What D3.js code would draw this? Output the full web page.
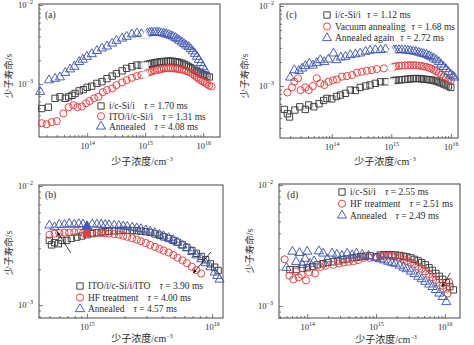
<!DOCTYPE html>
<html>
<head>
<meta charset="utf-8">
<script src="https://cdn.jsdelivr.net/npm/d3@7"></script>
<style>
  body { margin: 0; background: #fff; }
  svg text { font-family: "Liberation Serif", "DejaVu Serif", serif; fill: #2b2b2b; }
  .cjk { font-family: "Noto Sans CJK SC", sans-serif; }
</style>
</head>
<body>
<svg id="fig" width="474" height="345"></svg>
<script>
// Effective lifetime vs excess carrier density, [density (cm^-3), lifetime (ms)]
var aBase = [[1.65e13,0.49],[2.15e13,0.51],[2.8e13,0.66],[3.4e13,0.69],[4.2e13,0.66],[4.8e13,0.69],[5.5e13,0.72],[6.2e13,0.76],[7.3e13,0.82],[8.6e13,0.85],[1.0e14,0.91],[1.2e14,0.94],[1.47e14,1.02],[1.8e14,1.07],[2.2e14,1.17],[2.7e14,1.26],[3.2e14,1.36],[4.0e14,1.47],[4.8e14,1.58],[5.9e14,1.66],[7.2e14,1.74],[8.6e14,1.73],
  [1.1e15,1.78],[1.2e15,1.8],[1.3e15,1.83],[1.45e15,1.86],[1.6e15,1.88],[1.75e15,1.9],[1.9e15,1.92],[2.1e15,1.93],[2.3e15,1.94],[2.5e15,1.95],[2.75e15,1.95],[3.0e15,1.94],[3.3e15,1.92],[3.6e15,1.9],[3.9e15,1.87],[4.3e15,1.83],[4.7e15,1.78],[5.1e15,1.73],[5.6e15,1.67],[6.1e15,1.61],[6.6e15,1.55],[7.2e15,1.5],[7.8e15,1.45],[8.4e15,1.41],[9.1e15,1.37],[9.9e15,1.33],[1.07e16,1.3],[1.16e16,1.26],[1.28e16,1.23]];
var aIto = [[1.65e13,0.32],[2.0e13,0.31],[2.45e13,0.33],[3.0e13,0.34],[3.9e13,0.425],[4.8e13,0.51],[5.8e13,0.54],[6.8e13,0.51],[8.1e13,0.52],[9.6e13,0.57],[1.1e14,0.61],[1.32e14,0.66],[1.56e14,0.69],[1.86e14,0.79],[2.2e14,0.84],[2.7e14,0.88],[3.2e14,0.97],[4.0e14,1.05],[4.8e14,1.12],[5.9e14,1.2],[7.2e14,1.26],[8.6e14,1.3],
  [1.1e15,1.39],[1.2e15,1.42],[1.3e15,1.45],[1.45e15,1.48],[1.6e15,1.51],[1.75e15,1.53],[1.9e15,1.55],[2.1e15,1.57],[2.3e15,1.58],[2.5e15,1.59],[2.75e15,1.59],[3.0e15,1.58],[3.3e15,1.57],[3.6e15,1.56],[3.9e15,1.54],[4.3e15,1.52],[4.7e15,1.5],[5.1e15,1.47],[5.6e15,1.43],[6.1e15,1.39],[6.6e15,1.34],[7.2e15,1.28],[7.8e15,1.22],[8.4e15,1.17],[9.1e15,1.12],[9.9e15,1.08],[1.07e16,1.04],[1.16e16,1.0],[1.27e16,0.96],[1.4e16,0.93]];
var aAnneal = [[1.55e13,0.8],[2.2e13,1.12],[2.8e13,1.17],[3.4e13,1.22],[4.2e13,1.39],[5.1e13,1.54],[6.0e13,1.66],[7.3e13,1.91],[8.4e13,2.04],[9.9e13,2.22],[1.2e14,2.4],[1.47e14,2.63],[1.8e14,2.83],[2.2e14,3.0],[2.7e14,3.27],[3.2e14,3.54],[4.0e14,3.78],[4.8e14,3.98],[5.9e14,4.27],[7.2e14,4.38],[8.6e14,4.3],
  [1.1e15,4.4],[1.2e15,4.45],[1.3e15,4.5],[1.45e15,4.52],[1.6e15,4.5],[1.75e15,4.47],[1.9e15,4.42],[2.1e15,4.36],[2.3e15,4.28],[2.5e15,4.2],[2.75e15,4.1],[3.0e15,4.0],[3.3e15,3.85],[3.6e15,3.7],[3.9e15,3.55],[4.3e15,3.38],[4.7e15,3.22],[5.1e15,3.08],[5.6e15,2.95],[6.1e15,2.78],[6.6e15,2.6],[7.2e15,2.42],[7.8e15,2.22],[8.4e15,2.03],[9.1e15,1.85],[9.9e15,1.66],[1.07e16,1.5]];

var bBase = [[5.0e14,3.49],[5.2e14,3.2],[5.5e14,3.34],[5.9e14,3.27],[6.3e14,3.49],[6.9e14,3.49],[7.5e14,3.63],[8.3e14,3.72],[9.1e14,3.8],[1.1e15,3.98],[1.2e15,4.05],[1.3e15,4.1],[1.4e15,4.14],[1.5e15,4.17],[1.65e15,4.2],[1.8e15,4.22],[1.95e15,4.24],[2.1e15,4.24],[2.3e15,4.23],[2.5e15,4.21],[2.7e15,4.18],[2.95e15,4.13],[3.2e15,4.08],[3.5e15,3.96],[3.8e15,3.86],[4.1e15,3.74],[4.5e15,3.62],[4.9e15,3.49],[5.3e15,3.37],[5.8e15,3.2],[6.3e15,3.05],[6.9e15,2.87],[7.5e15,2.72],[8.2e15,2.56],[8.9e15,2.4],[9.7e15,2.22],[1.05e16,2.08],[1.12e16,1.95]];
var bHf = [[5.0e14,3.89],[5.5e14,3.98],[6.0e14,4.03],[6.6e14,4.06],[7.2e14,4.06],[7.9e14,4.08],[8.6e14,4.08],[9.3e14,4.06],[1.1e15,4.06],[1.2e15,4.05],[1.3e15,4.03],[1.4e15,4.0],[1.5e15,3.98],[1.65e15,3.95],[1.8e15,3.9],[1.95e15,3.82],[2.1e15,3.74],[2.3e15,3.64],[2.5e15,3.54],[2.7e15,3.44],[2.95e15,3.32],[3.2e15,3.2],[3.5e15,3.08],[3.8e15,2.97],[4.1e15,2.87],[4.5e15,2.76],[4.9e15,2.63],[5.3e15,2.5],[5.8e15,2.37],[6.3e15,2.25],[6.9e15,2.1],[7.5e15,1.97],[8.2e15,1.84]];
var bAnneal = [[5.0e14,4.67],[5.5e14,4.52],[6.0e14,4.73],[6.6e14,4.73],[7.2e14,4.82],[7.9e14,4.73],[8.6e14,4.8],[9.3e14,4.76],[1.1e15,4.78],[1.2e15,4.76],[1.3e15,4.74],[1.4e15,4.72],[1.5e15,4.7],[1.65e15,4.67],[1.8e15,4.63],[1.95e15,4.59],[2.1e15,4.55],[2.3e15,4.49],[2.5e15,4.42],[2.7e15,4.35],[2.95e15,4.25],[3.2e15,4.15],[3.5e15,4.03],[3.8e15,3.9],[4.1e15,3.79],[4.5e15,3.66],[4.9e15,3.52],[5.3e15,3.36],[5.8e15,3.18],[6.3e15,3.0],[6.9e15,2.8],[7.5e15,2.62],[8.2e15,2.43],[8.9e15,2.25],[9.7e15,2.08],[1.05e16,1.88],[1.1e16,1.76],[1.15e16,1.64]];

var cBase = [[1.6e13,0.51],[1.8e13,0.45],[1.95e13,0.41],[2.4e13,0.5],[2.9e13,0.55],[3.6e13,0.51],[4.1e13,0.58],[5.0e13,0.55],[6.1e13,0.6],[7.3e13,0.66],[8.3e13,0.7],[1.0e14,0.69],[1.2e14,0.74],[1.4e14,0.77],[1.7e14,0.81],[2.05e14,0.89],[2.5e14,0.88],[3.0e14,0.96],[3.7e14,1.0],[4.4e14,1.03],[5.4e14,1.08],[6.6e14,1.13],[8.0e14,1.13],
  [1.1e15,1.17],[1.2e15,1.18],[1.35e15,1.19],[1.5e15,1.2],[1.7e15,1.21],[1.9e15,1.22],[2.1e15,1.23],[2.35e15,1.24],[2.6e15,1.24],[2.9e15,1.24],[3.2e15,1.23],[3.5e15,1.22],[3.9e15,1.21],[4.3e15,1.2],[4.7e15,1.19],[5.2e15,1.17],[5.7e15,1.15],[6.3e15,1.12],[6.9e15,1.09],[7.6e15,1.06],[8.3e15,1.03],[9.1e15,1.0],[1.0e16,0.96]];
var cVacuum = [[1.8e13,0.83],[2.15e13,0.96],[2.35e13,1.13],[2.7e13,1.25],[3.0e13,0.89],[3.6e13,0.96],[4.1e13,0.89],[4.8e13,1.0],[5.6e13,1.25],[6.4e13,1.08],[7.5e13,1.03],[8.8e13,1.13],[1.05e14,1.18],[1.22e14,1.21],[1.48e14,1.31],[1.8e14,1.33],[2.2e14,1.37],[2.65e14,1.47],[3.2e14,1.51],[3.9e14,1.55],[4.7e14,1.58],[5.7e14,1.63],[7.5e14,1.66],
  [1.1e15,1.74],[1.2e15,1.77],[1.35e15,1.79],[1.5e15,1.8],[1.7e15,1.81],[1.9e15,1.82],[2.1e15,1.82],[2.35e15,1.82],[2.6e15,1.81],[2.9e15,1.8],[3.2e15,1.78],[3.5e15,1.76],[3.9e15,1.73],[4.3e15,1.69],[4.7e15,1.65],[5.2e15,1.59],[5.7e15,1.53],[6.3e15,1.46],[6.9e15,1.39],[7.6e15,1.32],[8.3e15,1.26],[9.1e15,1.21],[1.0e16,1.17]];
var cAgain = [[2.0e13,1.28],[2.35e13,1.58],[2.8e13,1.55],[3.2e13,1.66],[3.6e13,1.78],[4.2e13,1.91],[4.8e13,1.81],[5.6e13,1.94],[6.4e13,2.11],[7.5e13,2.0],[8.8e13,2.15],[1.07e14,2.56],[1.2e14,2.11],[1.42e14,2.28],[1.7e14,2.33],[2.05e14,2.44],[2.5e14,2.5],[3.0e14,2.56],[3.7e14,2.69],[4.4e14,2.77],[5.4e14,2.82],[6.6e14,2.82],[8.0e14,2.88],
  [1.1e15,2.8],[1.2e15,2.82],[1.35e15,2.82],[1.5e15,2.82],[1.7e15,2.8],[1.9e15,2.78],[2.1e15,2.75],[2.35e15,2.71],[2.6e15,2.68],[2.9e15,2.62],[3.2e15,2.56],[3.5e15,2.52],[3.9e15,2.46],[4.3e15,2.38],[4.7e15,2.3],[5.2e15,2.21],[5.7e15,2.11],[6.3e15,2.0],[6.9e15,1.86],[7.6e15,1.74],[8.3e15,1.63],[9.1e15,1.5],[1.0e16,1.4],[1.08e16,1.33],[1.15e16,1.28]];

var dBase = [[5.6e13,2.0],[7.0e13,2.0],[8.5e13,2.05],[1.0e14,2.07],[1.2e14,2.12],[1.4e14,2.19],[1.7e14,2.24],[2.0e14,2.29],[2.4e14,2.32],[2.8e14,2.36],[3.3e14,2.42],[3.8e14,2.45],[4.5e14,2.5],[5.2e14,2.53],[6.0e14,2.56],[7.0e14,2.58],[8.2e14,2.6],[1.15e15,2.64],[1.3e15,2.65],[1.5e15,2.66],[1.7e15,2.65],[1.9e15,2.64],[2.2e15,2.62],[2.5e15,2.58],[2.8e15,2.55],[3.2e15,2.5],[3.6e15,2.43],[4.1e15,2.36],[4.6e15,2.28],[5.2e15,2.19],[5.9e15,2.07],[6.6e15,1.97],[7.4e15,1.86],[8.3e15,1.76],[9.3e15,1.66],[1.05e16,1.56],[1.18e16,1.45],[1.33e16,1.36]];
var dHf = [[4.7e13,2.43],[5.5e13,1.78],[6.3e13,1.66],[6.9e13,1.93],[7.5e13,1.73],[8.3e13,1.81],[9.6e13,1.63],[1.07e14,1.9],[1.3e14,1.86],[1.56e14,2.1],[1.83e14,2.15],[2.4e14,2.19],[2.9e14,2.25],[3.4e14,2.29],[4.0e14,2.32],[4.7e14,2.34],[5.5e14,2.4],[6.6e14,2.5],[8.0e14,2.5],[1.15e15,2.58],[1.3e15,2.6],[1.5e15,2.6],[1.7e15,2.58],[1.9e15,2.55],[2.2e15,2.5],[2.5e15,2.44],[2.8e15,2.36],[3.2e15,2.29],[3.6e15,2.22],[4.1e15,2.12],[4.6e15,2.03],[5.2e15,1.93],[5.9e15,1.83],[6.6e15,1.73],[7.4e15,1.64],[8.3e15,1.56],[9.3e15,1.47],[1.05e16,1.39],[1.1e16,1.27],[1.15e16,1.58]];
var dAnneal = [[5.0e13,2.07],[6.1e13,2.82],[6.9e13,2.32],[7.7e13,2.75],[8.5e13,2.19],[9.3e13,2.46],[1.0e14,2.82],[1.1e14,2.24],[1.26e14,2.34],[1.48e14,2.84],[1.7e14,2.72],[1.95e14,2.44],[2.3e14,2.72],[2.7e14,2.66],[3.2e14,2.6],[3.8e14,2.72],[4.5e14,2.63],[5.2e14,2.72],[6.3e14,2.66],[7.8e14,2.6],[1.15e15,2.44],[1.3e15,2.39],[1.5e15,2.33],[1.7e15,2.28],[1.9e15,2.24],[2.2e15,2.16],[2.5e15,2.08],[2.8e15,2.02],[3.2e15,1.93],[3.6e15,1.84],[4.1e15,1.75],[4.6e15,1.67],[5.2e15,1.59],[5.9e15,1.51],[6.6e15,1.44],[7.4e15,1.36],[8.3e15,1.27],[9.3e15,1.19],[1.05e16,1.08]];

// legend entries; tau is the lifetime at the reference density
var refDensity = 1e15;
var aNames = ["i/c-Si/i", "ITO/i/c-Si/i", "Annealed"];
var aTau = [1.70, 1.31, 4.08];
var bNames = ["ITO/i/c-Si/i/ITO", "HF treatment", "Annealed"];
var bTau = [3.90, 4.00, 4.57];
var cNames = ["i/c-Si/i", "Vacuum annealing", "Annealed again"];
var cTau = [1.12, 1.68, 2.72];
var dNames = ["i/c-Si/i", "HF treatment", "Annealed"];
var dTau = [2.55, 2.51, 2.49];

// trend arrows, [from, to] in [density, lifetime (ms)]
var bArrows = [[[7.4e14, 2.75], [5.8e14, 4.1]], [[9.8e15, 2.79], [7.1e15, 1.86]]];
var dArrows = [[[1.2e16, 1.88], [9.1e15, 1.44]]];

var colors = ["#3a3a3a", "#e43d3d", "#4159b3"];
var shapes = [d3.symbolSquare, d3.symbolCircle, d3.symbolTriangle];
var sizes = [40, 40, 36];

var panels = [
  {tag: "(a)", series: [aBase, aIto, aAnneal], names: aNames, tau: aTau, hl: ["white", "white", "white"], arrows: [],
   box: [39, 220, 4, 137], xd: [1.48e13, 1.95e16], yd: [2.14e-4, 1.03e-2],
   legend: {x: 101, y: 106, dy: 10.2, gap: 9}, tagPos: [45, 18], ylab: [12, 76], xlab: [142, 165]},
  {tag: "(c)", series: [cBase, cVacuum, cAgain], names: cNames, tau: cTau, hl: ["white", "white", "white"], arrows: [],
   box: [280, 458, 4, 138], xd: [1.35e13, 1.32e16], yd: [2.24e-4, 1.06e-2],
   legend: {x: 327, y: 15, dy: 11.5, gap: 6}, tagPos: [286, 18], ylab: [248, 76], xlab: [385, 165]},
  {tag: "(b)", series: [bBase, bHf, bAnneal], names: bNames, tau: bTau, hl: ["plain", "filled", "filled"], arrows: bArrows,
   box: [39, 223, 185, 318], xd: [4.13e14, 1.225e16], yd: [7.78e-4, 1.02e-2],
   legend: {x: 80, y: 286, dy: 11.5, gap: 9}, tagPos: [45, 198], ylab: [12, 253], xlab: [142, 342]},
  {tag: "(d)", series: [dBase, dHf, dAnneal], names: dNames, tau: dTau, hl: ["plain", "plain", "plain"], arrows: dArrows,
   box: [279, 460, 184, 318], xd: [3.89e13, 1.66e16], yd: [7.96e-4, 1.02e-2],
   legend: {x: 342, y: 192, dy: 11.7, gap: 9}, tagPos: [287, 198], ylab: [253, 251], xlab: [386, 343]}
];

var svg = d3.select("#fig");

svg.append("defs").append("marker")
    .attr("id", "head")
    .attr("viewBox", "0 0 10 10")
    .attr("refX", 9).attr("refY", 5)
    .attr("markerWidth", 5).attr("markerHeight", 5)
    .attr("orient", "auto")
  .append("path")
    .attr("d", "M0,1 L10,5 L0,9 z")
    .attr("fill", "#111");

// all k*10^n values inside a log domain
function logTicks(domain) {
  var out = [];
  for (var n = Math.floor(Math.log10(domain[0])); n <= Math.ceil(Math.log10(domain[1])); n++) {
    for (var k = 1; k < 10; k++) {
      var v = k * Math.pow(10, n);
      if (v >= domain[0] && v <= domain[1]) out.push(v);
    }
  }
  return out;
}
function isDecade(v) {
  var e = Math.log10(v);
  return Math.abs(e - Math.round(e)) < 1e-9;
}
// "10" with the exponent raised
function powerLabel(sel) {
  sel.each(function(d) {
    var t = d3.select(this).text(null);
    var e = Math.round(Math.log10(d));
    t.append("tspan").text("10");
    t.append("tspan").attr("dy", -3.8).attr("font-size", 6).text(e < 0 ? "\u2212" + (-e) : e);
  });
}
function tidy(g) {
  g.attr("font-family", null).attr("font-size", 8.5);
  g.select(".domain").remove();
  g.selectAll(".tick line").attr("stroke", "#555").attr("stroke-width", 0.8);
}

panels.forEach(function(p) {
  var x0 = p.box[0], x1 = p.box[1], y0 = p.box[2], y1 = p.box[3];
  var x = d3.scaleLog().domain(p.xd).range([x0, x1]);
  var y = d3.scaleLog().domain(p.yd).range([y1, y0]);
  var g = svg.append("g");

  var xt = logTicks(p.xd), yt = logTicks(p.yd);

  g.append("g").attr("transform", "translate(0," + y1 + ")")
      .call(d3.axisBottom(x).tickValues(xt.filter(function(v) { return !isDecade(v); })).tickSize(-2).tickFormat(""))
      .call(tidy);
  g.append("g").attr("transform", "translate(0," + y1 + ")")
      .call(d3.axisBottom(x).tickValues(xt.filter(isDecade)).tickSize(-4).tickPadding(6).tickFormat(""))
      .call(tidy)
      .selectAll(".tick text").call(powerLabel);

  g.append("g").attr("transform", "translate(" + x0 + ",0)")
      .call(d3.axisLeft(y).tickValues(yt.filter(function(v) { return !isDecade(v); })).tickSize(-2).tickFormat(""))
      .call(tidy);
  g.append("g").attr("transform", "translate(" + x0 + ",0)")
      .call(d3.axisLeft(y).tickValues(yt.filter(isDecade)).tickSize(-4).tickPadding(6).tickFormat(""))
      .call(tidy)
      .selectAll(".tick text").call(powerLabel);

  g.append("rect")
      .attr("x", x0).attr("y", y0)
      .attr("width", x1 - x0).attr("height", y1 - y0)
      .attr("fill", "none").attr("stroke", "#444").attr("stroke-width", 1);

  var plot = g.append("g");

  // measured points, drawn black, red, blue so blue ends up on top
  p.series.forEach(function(data, i) {
    plot.selectAll(null)
      .data(data)
      .enter().append("path")
        .attr("d", d3.symbol(shapes[i], sizes[i]))
        .attr("transform", function(d) { return "translate(" + x(d[0]) + "," + y(d[1] / 1000) + ")"; })
        .attr("fill", "none")
        .attr("stroke", colors[i])
        .attr("stroke-width", 0.95);
  });

  // lifetime quoted in the legend, at the reference density
  p.tau.forEach(function(t, i) {
    var m = plot.append("path")
        .attr("d", d3.symbol(shapes[i], sizes[i])())
        .attr("transform", "translate(" + x(refDensity) + "," + y(t / 1000) + ")");
    if (p.hl[i] == "white") {
      m.attr("fill", "#fff").attr("stroke", "#d0d0d0").attr("stroke-width", 0.8);
    } else if (p.hl[i] == "filled") {
      m.attr("d", d3.symbol(i == 2 ? d3.symbolTriangle : d3.symbolSquare, 44)())
       .attr("fill", colors[i]).attr("stroke", colors[i]).attr("stroke-width", 0.8);
    } else {
      m.attr("fill", "none").attr("stroke", colors[i]).attr("stroke-width", 0.95);
    }
  });

  p.arrows.forEach(function(a) {
    g.append("line")
        .attr("x1", x(a[0][0])).attr("y1", y(a[0][1] / 1000))
        .attr("x2", x(a[1][0])).attr("y2", y(a[1][1] / 1000))
        .attr("stroke", "#111").attr("stroke-width", 0.8)
        .attr("marker-end", "url(#head)");
  });

  // legend: marker, sample name, then the quoted lifetime
  p.names.forEach(function(name, i) {
    var cy = p.legend.y + i * p.legend.dy;
    g.append("path")
        .attr("d", d3.symbol(shapes[i], sizes[i])())
        .attr("transform", "translate(" + p.legend.x + "," + cy + ")")
        .attr("fill", "none").attr("stroke", colors[i]).attr("stroke-width", 0.95);
    var t = g.append("text")
        .attr("x", p.legend.x + 8).attr("y", cy + 3.3)
        .attr("font-size", 9.5);
    t.append("tspan").text(name);
    t.append("tspan").attr("dx", p.legend.gap).attr("font-style", "italic").text("\u03c4");
    t.append("tspan").text(" = " + p.tau[i].toFixed(2) + " ms");
  });

  g.append("text")
      .attr("x", p.tagPos[0]).attr("y", p.tagPos[1])
      .attr("font-size", 9.5)
      .text(p.tag);

  var yl = g.append("text")
      .attr("transform", "translate(" + p.ylab[0] + "," + p.ylab[1] + ") rotate(-90)")
      .attr("text-anchor", "middle")
      .attr("font-size", 9.5);
  yl.append("tspan").attr("class", "cjk").text("少子寿命");
  yl.append("tspan").text("/s");

  var xl = g.append("text")
      .attr("x", p.xlab[0]).attr("y", p.xlab[1])
      .attr("text-anchor", "middle")
      .attr("font-size", 10);
  xl.append("tspan").attr("class", "cjk").text("少子浓度");
  xl.append("tspan").text("/cm");
  xl.append("tspan").attr("dy", -3.8).attr("font-size", 6).text("\u22123");
});
</script>
</body>
</html>
